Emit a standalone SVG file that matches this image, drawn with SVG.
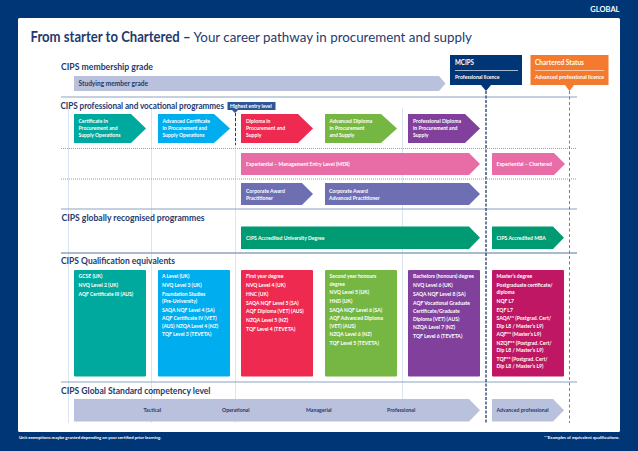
<svg xmlns="http://www.w3.org/2000/svg" width="638" height="451" viewBox="0 0 638 451">
<style>
text{font-family:Lato,"Liberation Sans",sans-serif}
.h{font-size:10px;font-weight:700;fill:#1f3a6e}
.w{font-size:5.1px;font-weight:700;fill:#fff}
.d{font-size:5.2px;font-weight:700;fill:#1f3a6e}
.l{font-size:5.05px;font-weight:700;fill:#fff}
.n{font-size:4.3px;font-weight:700;fill:#fff}
.bar{fill:#b9c1dc}
.lv{stroke:#cfe0ee;stroke-width:.8;fill:none}
.hs{stroke:#8ba2c2;stroke-width:1;fill:none}
.hd{stroke:#8ba2c2;stroke-width:1;stroke-dasharray:1 1;fill:none}
</style>
<rect width="638" height="451" fill="#003675"/>
<rect x="18" y="18" width="602" height="414" rx="1.5" fill="#fff"/>
<text x="619.500" y="12" text-anchor="end" style="font-size:7.500px;font-weight:700;fill:#fff">GLOBAL</text>
<text x="30.500" y="41.500" textLength="160" lengthAdjust="spacingAndGlyphs" style="font-size:14.300px;font-weight:700;fill:#1f3a6e">From starter to Chartered –</text>
<text x="193.500" y="41.500" textLength="278.500" lengthAdjust="spacingAndGlyphs" style="font-size:14.300px;fill:#1f3a6e">Your career pathway in procurement and supply</text>
<g id="connectors">
<path class="lv" d="M68.500 108V423M151.500 108V423M235.500 113V423M402.500 108V399"/>
<path d="M61 97H577M61 209H577M61 382H577" class="hs"/>
<path d="M61 253H577" stroke="#8ba2c2" stroke-width="1.500" fill="none"/>
<path d="M61 148.500H577M61 179H577" class="hd"/>
<path d="M235.500 113V145" stroke="#1f3a6e" stroke-width="1" stroke-dasharray="3 2" fill="none"/>
<path d="M486 91V423" stroke="#3d5480" stroke-width="1.500" stroke-dasharray="3 1.500" fill="none"/>
<path d="M569.500 91V423" stroke="#6f7f99" stroke-width="1" stroke-dasharray="3 2.500" fill="none"/>
</g>
<g id="section-headings">
<text class="h" x="61" y="69.500" textLength="92" lengthAdjust="spacingAndGlyphs">CIPS membership grade</text>
<text class="h" transform="translate(60.500 108.500) scale(.82 1)" textLength="199.400" lengthAdjust="spacing">CIPS professional and vocational programmes</text>
<text class="h" x="61.500" y="221" textLength="143" lengthAdjust="spacingAndGlyphs">CIPS globally recognised programmes</text>
<text class="h" x="61" y="264" textLength="114" lengthAdjust="spacingAndGlyphs">CIPS Qualification equivalents</text>
<text class="h" x="61" y="394" textLength="149.500" lengthAdjust="spacingAndGlyphs">CIPS Global Standard competency level</text>
</g>
<g id="studying"><path class="bar" d="M74 76H439L445.500 83.500L439 91H74Z"/><text class="d" x="78.500" y="85.500" textLength="69.500" lengthAdjust="spacingAndGlyphs" style="font-size:7px">Studying member grade</text></g>
<g id="mcips"><path fill="#003675" d="M450 55H522V85H491L486 91L481 85H450Z"/><text x="455" y="65" textLength="19" lengthAdjust="spacingAndGlyphs" style="font-size:7.400px;font-weight:700;fill:#fff">MCIPS</text><path d="M455 70.500H518" stroke="#cfd8e8" stroke-width=".8"/><text class="w" x="455" y="78.500" textLength="44.500" lengthAdjust="spacingAndGlyphs">Professional licence</text></g>
<g id="chartered"><path fill="#f47a30" d="M530.500 55H608.500V85H574L569.500 91L565 85H530.500Z"/><text x="535" y="65" textLength="49" lengthAdjust="spacingAndGlyphs" style="font-size:7.400px;font-weight:700;fill:#fff">Chartered Status</text><path d="M535 70.500H604" stroke="#fbd9c2" stroke-width=".8"/><text class="w" x="535" y="78.500" textLength="69" lengthAdjust="spacingAndGlyphs">Advanced professional licence</text></g>
<g id="highest-entry"><path fill="#2f5597" d="M227.500 102H275.500V110H238L235 113L232 110H227.500Z"/><text x="230" y="107.800" style="font-size:5px;font-weight:700;fill:#fff">Highest entry level</text></g>
<g id="certificate"><path fill="#00a99d" d="M74 114H131L146 128.500L131 143H74Z"/><text class="w"><tspan x="78.500" y="122.800">Certificate in</tspan><tspan x="78.500" y="130">Procurement and</tspan><tspan x="78.500" y="137.300">Supply Operations</tspan></text></g>
<g id="advanced-certificate"><path fill="#00aeef" d="M158 114H214L230 128.500L214 143H158Z"/><text class="w"><tspan x="162.500" y="122.800">Advanced Certificate</tspan><tspan x="162.500" y="130">in Procurement and</tspan><tspan x="162.500" y="137.300">Supply Operations</tspan></text></g>
<g id="diploma"><path fill="#ee2a50" d="M241 114H298L313 128.500L298 143H241Z"/><text class="w"><tspan x="246" y="122.800">Diploma in</tspan><tspan x="246" y="130">Procurement and</tspan><tspan x="246" y="137.300">Supply</tspan></text></g>
<g id="advanced-diploma"><path fill="#76b743" d="M325 114H381L397 128.500L381 143H325Z"/><text class="w"><tspan x="329.500" y="122.800">Advanced Diploma</tspan><tspan x="329.500" y="130">in Procurement</tspan><tspan x="329.500" y="137.300">and Supply</tspan></text></g>
<g id="professional-diploma"><path fill="#80409c" d="M408 114H465L480 128.500L465 143H408Z"/><text class="w"><tspan x="413" y="122.800">Professional Diploma</tspan><tspan x="413" y="130">in Procurement and</tspan><tspan x="413" y="137.300">Supply</tspan></text></g>
<g id="mer"><path fill="#e86ca6" d="M241 153H469L480 164L469 175H241Z"/><text class="w" x="246" y="165.800">Experiential – Management Entry Level (MER)</text></g>
<g id="exp-chartered"><path fill="#e86ca6" d="M492 153H554L565 164L554 175H492Z"/><text class="w" x="496.500" y="165.800">Experiential – Chartered</text></g>
<g id="corp-practitioner"><path fill="#6e6fb3" d="M241 183H302L313 194L302 205H241Z"/><text class="w"><tspan x="246" y="192.500">Corporate Award</tspan><tspan x="246" y="199.500">Practitioner</tspan></text></g>
<g id="corp-advanced"><path fill="#6e6fb3" d="M325 183H469L480 194L469 205H325Z"/><text class="w"><tspan x="329" y="192.500">Corporate Award</tspan><tspan x="329" y="199.500">Advanced Practitioner</tspan></text></g>
<g id="university-degree"><path fill="#009b72" d="M241 226.500H469L480 237.800L469 249H241Z"/><text class="w" x="246" y="239.800">CIPS Accredited University Degree</text></g>
<g id="mba"><path fill="#009b72" d="M492 226.500H553L564 237.800L553 249H492Z"/><text class="w" x="496.500" y="239.800">CIPS Accredited MBA</text></g>
<g id="eq-1"><rect x="74" y="270" width="72" height="106.500" rx="1" fill="#00a99d"/><text class="l"><tspan x="78.500" y="278.400">GCSE (UK)</tspan><tspan x="78.500" y="287">NVQ Level 2 (UK)</tspan><tspan x="78.500" y="296">AQF Certificate III (AUS)</tspan></text></g>
<g id="eq-2"><rect x="158" y="270" width="72" height="106.500" rx="1" fill="#00aeef"/><text class="l"><tspan x="162" y="278.400">A Level (UK)</tspan><tspan x="162" y="287">NVQ Level 3 (UK)</tspan><tspan x="162" y="296">Foundation Studies</tspan><tspan x="162" y="302.700">(Pre-University)</tspan><tspan x="162" y="311.700">SAQA NQF Level 4 (SA)</tspan><tspan x="162" y="320.400">AQF Certificate IV (VET)</tspan><tspan x="162" y="327.700">(AUS) NZQA Level 4 (NZ)</tspan><tspan x="162" y="336.400">TQF Level 3 (TEVETA)</tspan></text></g>
<g id="eq-3"><rect x="241" y="270" width="72" height="106.500" rx="1" fill="#ee2a50"/><text class="l"><tspan x="246" y="278.400">First year degree</tspan><tspan x="246" y="287">NVQ Level 4 (UK)</tspan><tspan x="246" y="296">HNC (UK)</tspan><tspan x="246" y="304.700">SAQA NQF Level 5 (SA)</tspan><tspan x="246" y="313.400">AQF Diploma (VET) (AUS)</tspan><tspan x="246" y="322">NZQA Level 5 (NZ)</tspan><tspan x="246" y="330.700">TQF Level 4 (TEVETA)</tspan></text></g>
<g id="eq-4"><rect x="325" y="270" width="72" height="106.500" rx="1" fill="#76b743"/><text class="l"><tspan x="329.500" y="278.400">Second year honours</tspan><tspan x="329.500" y="285.700">degree</tspan><tspan x="329.500" y="294.400">NVQ Level 5 (UK)</tspan><tspan x="329.500" y="302.700">HND (UK)</tspan><tspan x="329.500" y="311.700">SAQA NQF Level 6 (SA)</tspan><tspan x="329.500" y="320.400">AQF Advanced Diploma</tspan><tspan x="329.500" y="327.700">(VET) (AUS)</tspan><tspan x="329.500" y="336.400">NZQA Level 6 (NZ)</tspan><tspan x="329.500" y="345">TQF Level 5 (TEVETA)</tspan></text></g>
<g id="eq-5"><rect x="408" y="270" width="72" height="106.500" rx="1" fill="#80409c"/><text class="l"><tspan x="413" y="278.400">Bachelors (honours) degree</tspan><tspan x="413" y="287">NVQ Level 6 (UK)</tspan><tspan x="413" y="296">SAQA NQF Level 8 (SA)</tspan><tspan x="413" y="304.700">AQF Vocational Graduate</tspan><tspan x="413" y="313.400">Certificate/Graduate</tspan><tspan x="413" y="320.700">Diploma (VET) (AUS)</tspan><tspan x="413" y="329.400">NZQA Level 7 (NZ)</tspan><tspan x="413" y="338">TQF Level 6 (TEVETA)</tspan></text></g>
<g id="eq-6"><rect x="492" y="270" width="72" height="106.500" rx="1" fill="#bf1763"/><text class="l"><tspan x="496.500" y="278.400">Master’s degree</tspan><tspan x="496.500" y="287">Postgraduate certificate/</tspan><tspan x="496.500" y="294.400">diploma</tspan><tspan x="496.500" y="302.700">NQF L7</tspan><tspan x="496.500" y="311.700">EQF L7</tspan><tspan x="496.500" y="320.400">SAQA** (Postgrad. Cert/</tspan><tspan x="496.500" y="327.700">Dip L8 / Master’s L9)</tspan><tspan x="496.500" y="336.400">AQF** (Master’s L9)</tspan><tspan x="496.500" y="345">NZQF** (Postgrad. Cert/</tspan><tspan x="496.500" y="352.400">Dip L8 / Master’s L9)</tspan><tspan x="496.500" y="361">TQF** (Postgrad. Cert/</tspan><tspan x="496.500" y="368.400">Dip L8 / Master’s L9)</tspan></text></g>
<g id="competency"><path class="bar" d="M74 399H469L480 410.200L469 421.500H74Z"/><text class="d" x="143.500" y="412">Tactical</text><text class="d" x="222" y="412">Operational</text><text class="d" x="306" y="412">Managerial</text><text class="d" x="387" y="412">Professional</text></g>
<g id="advanced-professional"><path class="bar" d="M492 399H553L564 410.200L553 421.500H492Z"/><text class="d" x="496.500" y="412">Advanced professional</text></g>
<text class="n" x="19" y="439">Unit exemptions maybe granted depending on your certified prior learning.</text>
<text class="n" x="619.500" y="439" text-anchor="end">**Examples of equivalent qualifications.</text>
</svg>
